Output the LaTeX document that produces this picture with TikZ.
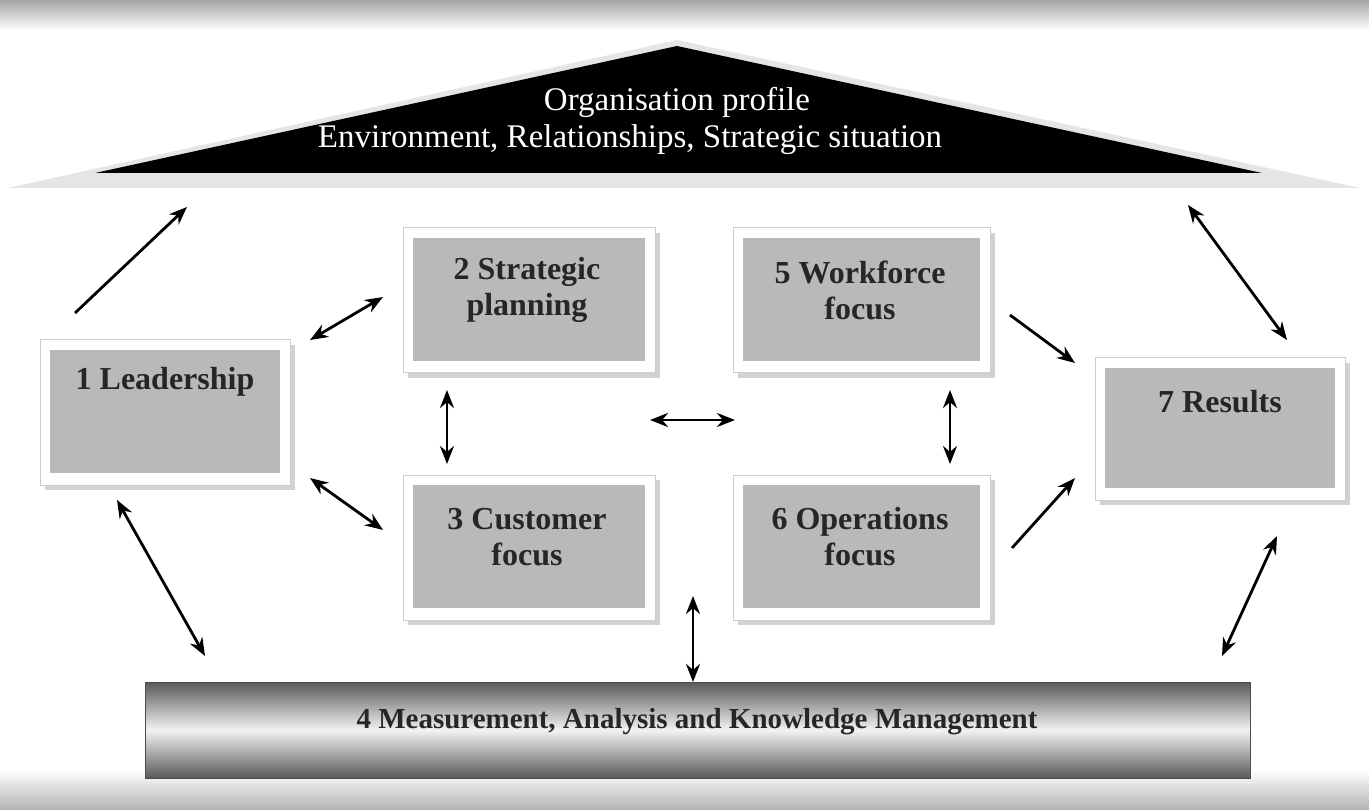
\documentclass[tikz,border=0pt]{standalone}
\usepackage{fontspec}
\setmainfont{Liberation Serif}
\usetikzlibrary{arrows.meta}
\begin{document}
\begin{tikzpicture}[x=1pt,y=-1pt,
  frame/.style={fill=white,draw=gray!40,line width=1pt},
  inner/.style={fill=gray!55},
  lbl/.style={font=\fontsize{32}{36}\selectfont\bfseries,align=center,text=black!85},
  arr/.style={line width=2.8pt,-{Stealth[length=18pt,width=14pt]}},
  darr/.style={line width=2.8pt,{Stealth[length=18pt,width=14pt]}-{Stealth[length=18pt,width=14pt]}}]
\useasboundingbox (0,0) rectangle (1369,810);
\fill[white] (0,0) rectangle (1369,810);
% top and bottom bands
\shade[top color=gray!70,bottom color=white] (0,0) rectangle (1369,30);
\shade[top color=white,bottom color=gray!60] (0,770) rectangle (1369,810);
% roof
\fill[gray!20] (677,40) -- (1360,188) -- (8,188) -- cycle;
\fill[black] (677,46) -- (1262,173) -- (95,173) -- cycle;
\node[text=white,font=\fontsize{33}{35}\selectfont] (org) at (677,102) {Organisation profile};
\node[text=white,font=\fontsize{33}{35}\selectfont] (env) at (630,140) {Environment, Relationships, Strategic situation};
% boxes
\foreach \n/\xa/\ya/\xb/\yb in {lead/40/340/290/485, strat/403/228/655/373, work/733/228/990/373, cust/403/475/655/620, oper/733/475/990/620, res/1095/358/1345/500}{
  \fill[gray!35] (\xa+5,\ya+5) rectangle (\xb+5,\yb+5);
  \draw[frame] (\xa,\ya) rectangle (\xb,\yb);
  \fill[inner] (\xa+10,\ya+10) rectangle (\xb-10,\yb-12);
  \coordinate (\n) at ({(\xa+\xb)/2},\ya);
}
\node[lbl] (t1) at (165,382) {1 Leadership};
\node[lbl] (t2) at (527,290) {2 Strategic\\planning};
\node[lbl] (t5) at (860,290) {5 Workforce\\focus};
\node[lbl] (t3) at (527,537) {3 Customer\\focus};
\node[lbl] (t6) at (860,537) {6 Operations\\focus};
\node[lbl] (t7) at (1220,402) {7 Results};
% measurement bar
\shade[top color=gray!70!black,bottom color=gray!70!black,middle color=gray!10] (145,682) rectangle (1250,778);
\draw[gray!60!black,line width=1pt] (145,682) rectangle (1250,778);
\node[lbl,font=\fontsize{29}{31}\selectfont\bfseries] (t4) at (697,722) {4 Measurement, Analysis and Knowledge Management};
% arrow endpoints
\coordinate (a1s) at (75,313); \coordinate (a1e) at (187,207);
\coordinate (a2s) at (310,340); \coordinate (a2e) at (383,297);
\coordinate (a3s) at (310,478); \coordinate (a3e) at (383,530);
\coordinate (a4s) at (447,390); \coordinate (a4e) at (447,464);
\coordinate (a5s) at (650,420); \coordinate (a5e) at (735,420);
\coordinate (a6s) at (950,390); \coordinate (a6e) at (950,464);
\coordinate (a7s) at (1010,315); \coordinate (a7e) at (1075,363);
\coordinate (a8s) at (1012,548); \coordinate (a8e) at (1075,478);
\coordinate (a9s) at (1188,205); \coordinate (a9e) at (1287,340);
\coordinate (a10s) at (1277,536); \coordinate (a10e) at (1222,656);
\coordinate (a11s) at (117,500); \coordinate (a11e) at (205,656);
\coordinate (a12s) at (693,596); \coordinate (a12e) at (693,682);
\draw[arr] (a1s) -- (a1e);
\draw[arr] (a7s) -- (a7e);
\draw[arr] (a8s) -- (a8e);
\foreach \i in {2,3,4,5,6,9,10,11,12} \draw[darr] (a\i s) -- (a\i e);
\end{tikzpicture}
\end{document}
